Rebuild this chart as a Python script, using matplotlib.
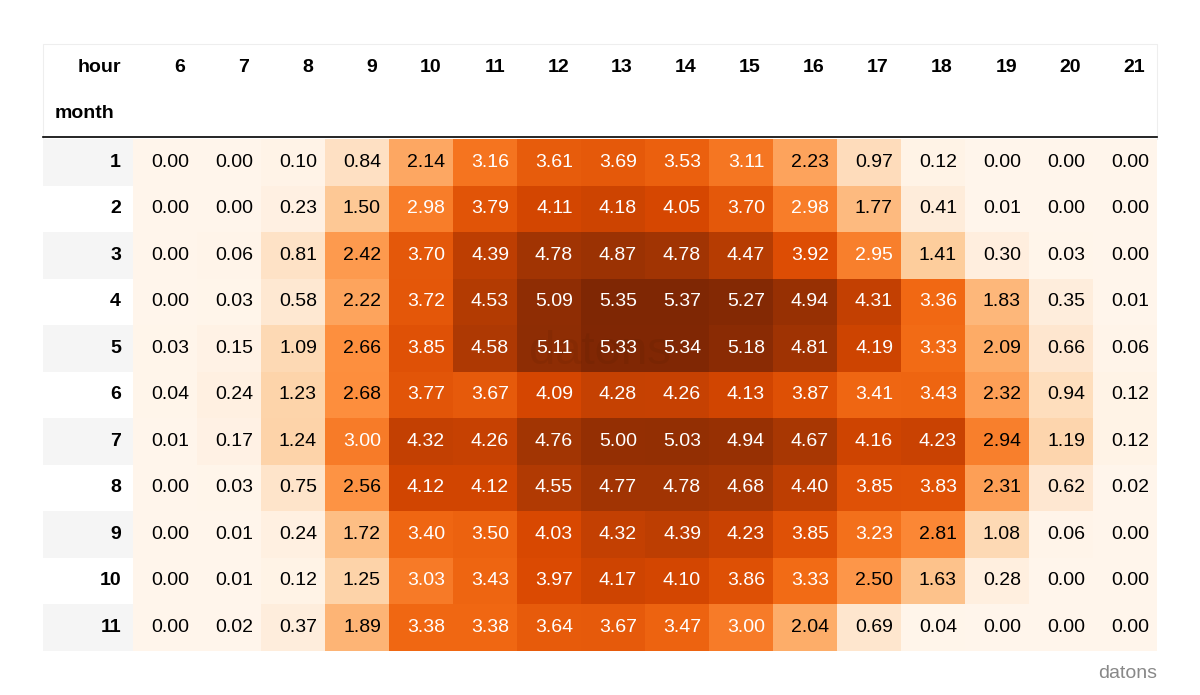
import matplotlib
matplotlib.use("Agg")
import matplotlib.pyplot as plt
import numpy as np
from matplotlib import colors

hours = [6,7,8,9,10,11,12,13,14,15,16,17,18,19,20,21]
months = [1,2,3,4,5,6,7,8,9,10,11]
values = [
 [0.00,0.00,0.10,0.84,2.14,3.16,3.61,3.69,3.53,3.11,2.23,0.97,0.12,0.00,0.00,0.00],
 [0.00,0.00,0.23,1.50,2.98,3.79,4.11,4.18,4.05,3.70,2.98,1.77,0.41,0.01,0.00,0.00],
 [0.00,0.06,0.81,2.42,3.70,4.39,4.78,4.87,4.78,4.47,3.92,2.95,1.41,0.30,0.03,0.00],
 [0.00,0.03,0.58,2.22,3.72,4.53,5.09,5.35,5.37,5.27,4.94,4.31,3.36,1.83,0.35,0.01],
 [0.03,0.15,1.09,2.66,3.85,4.58,5.11,5.33,5.34,5.18,4.81,4.19,3.33,2.09,0.66,0.06],
 [0.04,0.24,1.23,2.68,3.77,3.67,4.09,4.28,4.26,4.13,3.87,3.41,3.43,2.32,0.94,0.12],
 [0.01,0.17,1.24,3.00,4.32,4.26,4.76,5.00,5.03,4.94,4.67,4.16,4.23,2.94,1.19,0.12],
 [0.00,0.03,0.75,2.56,4.12,4.12,4.55,4.77,4.78,4.68,4.40,3.85,3.83,2.31,0.62,0.02],
 [0.00,0.01,0.24,1.72,3.40,3.50,4.03,4.32,4.39,4.23,3.85,3.23,2.81,1.08,0.06,0.00],
 [0.00,0.01,0.12,1.25,3.03,3.43,3.97,4.17,4.10,3.86,3.33,2.50,1.63,0.28,0.00,0.00],
 [0.00,0.02,0.37,1.89,3.38,3.38,3.64,3.67,3.47,3.00,2.04,0.69,0.04,0.00,0.00,0.00],
]
V = np.array(values)

fig = plt.figure(figsize=(12, 6.95), dpi=100)
ax = fig.add_axes([0, 0, 1, 1])
ax.set_xlim(0, 1200); ax.set_ylim(695, 0); ax.axis("off")

cmap = plt.get_cmap("Oranges")
norm = colors.Normalize(V.min(), V.max())
x0, idxw, cw = 43, 90, 64
y0, rh = 139, 46.5
fs = 14
font = "Liberation Sans"

ax.add_patch(plt.Rectangle((x0, 44), 1157 - x0, y0 - 44, fc="white", ec="#eeeeee", lw=0.8))
ax.plot([x0, 1157], [137, 137], color="black", lw=1.2)
ax.text(x0 + idxw - 12, 67, "hour", ha="right", va="center", fontsize=fs, fontweight="bold", family=font)
ax.text(x0 + 12, 113, "month", ha="left", va="center", fontsize=fs, fontweight="bold", family=font)
for j, h in enumerate(hours):
    ax.text(x0 + idxw + (j + 1) * cw - 12, 67, str(h), ha="right", va="center",
            fontsize=fs, fontweight="bold", family=font)

for i, m in enumerate(months):
    yt = y0 + i * rh
    bg = "#f5f5f5" if i % 2 == 0 else "white"
    ax.add_patch(plt.Rectangle((x0, yt), idxw, rh, fc=bg, ec="none"))
    ax.text(x0 + idxw - 12, yt + rh / 2, str(m), ha="right", va="center",
            fontsize=fs, fontweight="bold", family=font)
    for j in range(len(hours)):
        v = V[i, j]
        c = cmap(norm(v))
        ax.add_patch(plt.Rectangle((x0 + idxw + j * cw, yt), cw, rh, fc=c, ec="none", zorder=1))
        tc = "white" if v >= 2.95 else "black"
        ax.text(x0 + idxw + (j + 1) * cw - 8, yt + rh / 2, f"{v:.2f}", ha="right", va="center",
                fontsize=fs, color=tc, family=font, zorder=3)

ax.text(600, 352, "datons", ha="center", va="center", fontsize=34, color="black",
        alpha=0.05, family=font, zorder=2)
ax.text(1157, 673, "datons", ha="right", va="center", fontsize=14, color="#888888", family=font)

fig.savefig("out.png", dpi=100)
